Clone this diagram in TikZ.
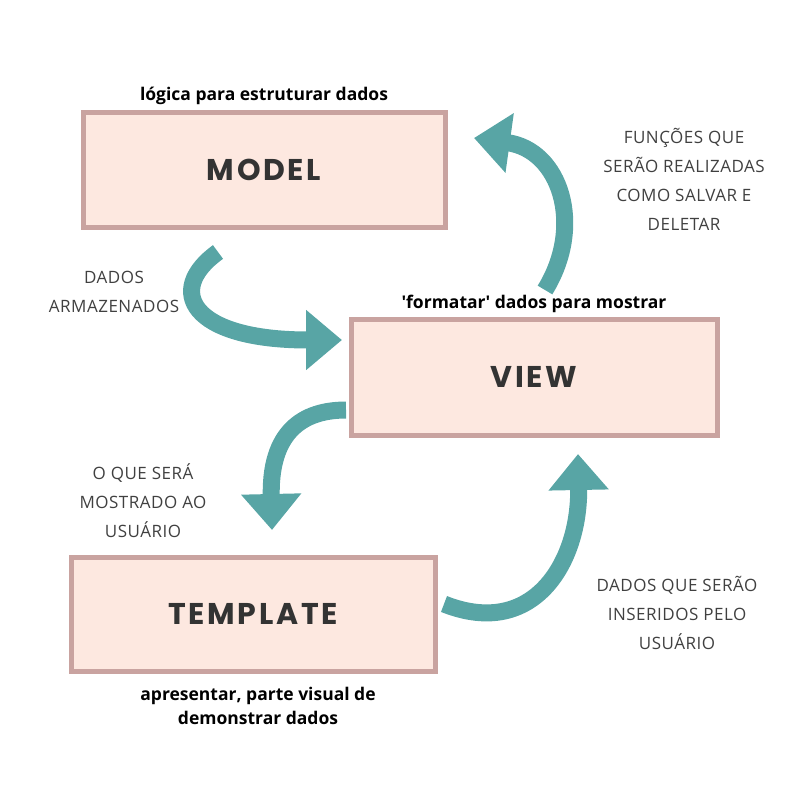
\documentclass[tikz,border=0pt]{standalone}
\usepackage{fontspec}
\setmainfont{Open Sans}
\newfontfamily\qf{Open Sans}
\newfontfamily\titlef[LetterSpace=9]{Poppins}
\usetikzlibrary{arrows.meta}
\definecolor{teal1}{HTML}{58A5A5}
\definecolor{bfill}{HTML}{FDE8E0}
\definecolor{bline}{HTML}{C9A3A0}
\begin{document}
\begin{tikzpicture}[x=1pt,y=-1pt,
 box/.style={draw=bline,fill=bfill,line width=5pt,inner sep=0pt},
 ttl/.style={font=\titlef\fontsize{30}{32}\selectfont\bfseries,text=black!80},
 lbl/.style={font=\fontsize{17.5}{24}\selectfont\bfseries,align=center},
 note/.style={font=\fontsize{17}{29}\selectfont\addfontfeature{LetterSpace=3},text=black!75,align=center},
 arr/.style={draw=teal1,line width=17pt,-{Triangle[length=36pt,width=58pt]}}]
\useasboundingbox (0,0) rectangle (800,800);
\node[box,minimum width=362pt,minimum height=115pt] (model) at (264,169.5) {};
\node[ttl] at (model) {MODEL};
\node[box,minimum width=366pt,minimum height=116pt] (view) at (534,377) {};
\node[ttl] at (view) {VIEW};
\node[box,minimum width=364pt,minimum height=114pt] (tmpl) at (253,614) {};
\node[ttl] at (tmpl) {TEMPLATE};
\node[lbl] (l1) at (264,96) {lógica para estruturar dados};
\node[lbl] (l2) at (534,304) {{\qf\bfseries'}formatar{\qf\bfseries'} dados para mostrar};
\node[lbl] (l3) at (258,706) {apresentar, parte visual de\\demonstrar dados};
\node[note] (n1) at (684,179) {FUNÇÕES QUE\\SERÃO REALIZADAS\\COMO SALVAR E\\DELETAR};
\node[note] (n2) at (114,292) {DADOS\\ARMAZENADOS};
\node[note] (n3) at (143,501) {O QUE SERÁ\\MOSTRADO AO\\USUÁRIO};
\node[note] (n4) at (677,613) {DADOS QUE SERÃO\\INSERIDOS PELO\\USUÁRIO};
\coordinate (a1s) at (218,252); \coordinate (a1e) at (342,340);
\coordinate (a2s) at (545,290); \coordinate (a2e) at (474,138);
\coordinate (a3s) at (346,410); \coordinate (a3e) at (272,530);
\coordinate (a4s) at (444,604); \coordinate (a4e) at (578,454);
\draw[arr] (a1s) .. controls (165,290) and (190,340) .. (a1e);
\draw[arr] (a2s) .. controls (585,225) and (560,150) .. (a2e);
\draw[arr] (a3s) .. controls (295,410) and (270,440) .. (a3e);
\draw[arr] (a4s) .. controls (535,640) and (580,560) .. (a4e);
\end{tikzpicture}
\end{document}
